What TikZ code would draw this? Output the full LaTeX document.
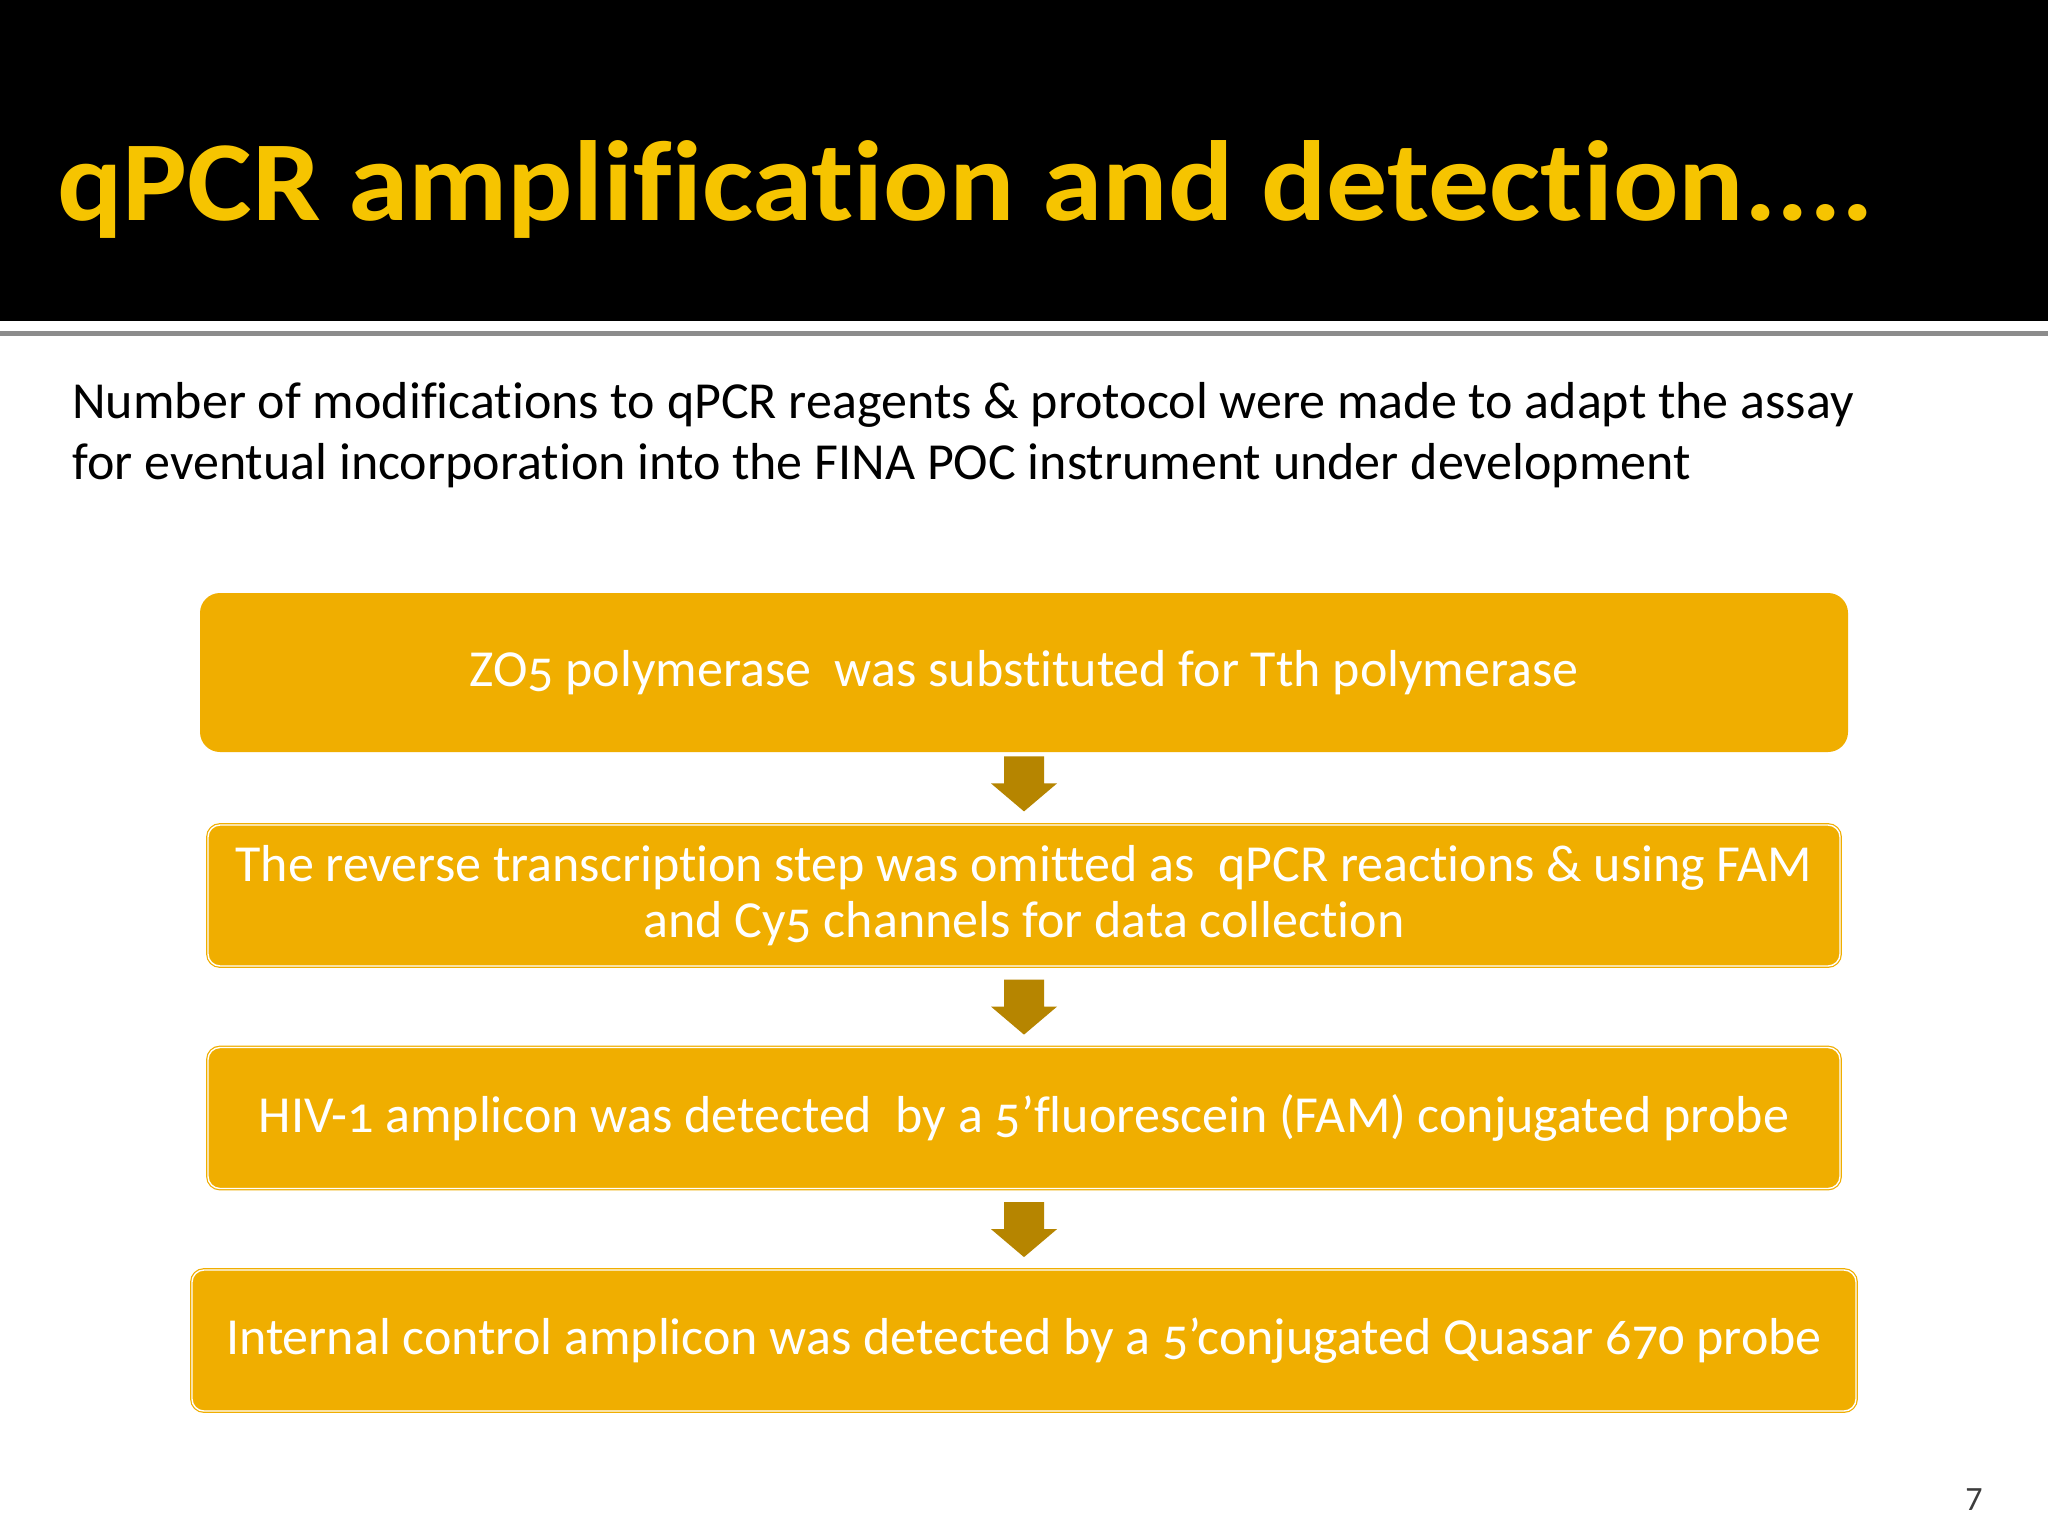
\documentclass[tikz,border=0pt]{standalone}
\usepackage{fontspec}
\setmainfont{Carlito}[Numbers=OldStyle, Ligatures=NoCommon]
\newfontfamily\liningfont{Carlito}
\usetikzlibrary{calc}
\definecolor{boxorange}{RGB}{240,174,0}
\definecolor{arrowgold}{RGB}{182,133,0}
\definecolor{titleyellow}{RGB}{246,196,0}
\definecolor{rulegray}{RGB}{140,140,140}
\definecolor{pagegray}{RGB}{60,60,60}
\tikzset{
  stepbox/.style={fill=boxorange, text=white, inner sep=0pt, align=center,
     font=\fontsize{26}{28}\selectfont},
  framedbox/.style={stepbox, draw=boxorange, double=white, line width=0.6pt,
     double distance=0.7pt, rounded corners=6pt},
  bodytext/.style={anchor=base west, inner sep=0pt, text=black,
     font=\fontsize{26}{30}\selectfont},
}
\newcommand\blockarrow[1]{%
  \fill[arrowgold] ($(#1)+(-20,0)$) -- ($(#1)+(20,0)$) -- ($(#1)+(20,27)$)
    -- ($(#1)+(33,27)$) -- ($(#1)+(0,55)$) -- ($(#1)+(-33,27)$)
    -- ($(#1)+(-20,27)$) -- cycle;}
\begin{document}
\begin{tikzpicture}[x=0.5pt,y=-0.5pt]
\useasboundingbox (0,0) rectangle (2048,1536);
\fill[white] (0,0) rectangle (2048,1536);
% header
\fill[black] (0,0) rectangle (2048,321);
\fill[rulegray] (0,331) rectangle (2048,336);
\node[anchor=base west, inner sep=0pt, text=titleyellow,
      font=\fontsize{57}{60}\selectfont\bfseries] (title) at (57,220)
  {\scalebox{1.07}[1]{qPCR amplification and detection....}};
% intro text
\node[bodytext] (intro1) at (72,418)
  {Number of modifications to qPCR reagents \& protocol were made to adapt the assay};
\node[bodytext] (intro2) at (72,479)
  {for eventual incorporation into the FINA POC instrument under development};
% boxes
\node[stepbox, rounded corners=10pt, minimum width=824pt, minimum height=79.5pt]
  (b1) at (1024,672.5) {ZO5 polymerase\ \ was substituted for Tth polymerase};
\node[framedbox, minimum width=816pt, minimum height=70.5pt]
  (b2) at (1024,895.5) {The reverse transcription step was omitted as\ \ qPCR reactions \& using FAM\\and Cy5 channels for data collection};
\node[framedbox, minimum width=816pt, minimum height=70.5pt]
  (b3) at (1024,1118) {HIV-1 amplicon was detected\ \ by a 5’fluorescein (FAM) conjugated probe};
\node[framedbox, minimum width=832pt, minimum height=70.5pt]
  (b4) at (1024,1340.5) {Internal control amplicon was detected by a 5’conjugated Quasar 670 probe};
% arrows
\coordinate (a1) at ($(b1.south)+(0,4)$);
\coordinate (a2) at ($(b2.south)+(0,13)$);
\coordinate (a3) at ($(b3.south)+(0,13)$);
\blockarrow{a1}
\blockarrow{a2}
\blockarrow{a3}
% page number
\node[anchor=base, inner sep=0pt, text=pagegray, font=\liningfont\fontsize{17}{20}\selectfont]
  (page) at (1974,1510) {7};
\end{tikzpicture}
\end{document}
